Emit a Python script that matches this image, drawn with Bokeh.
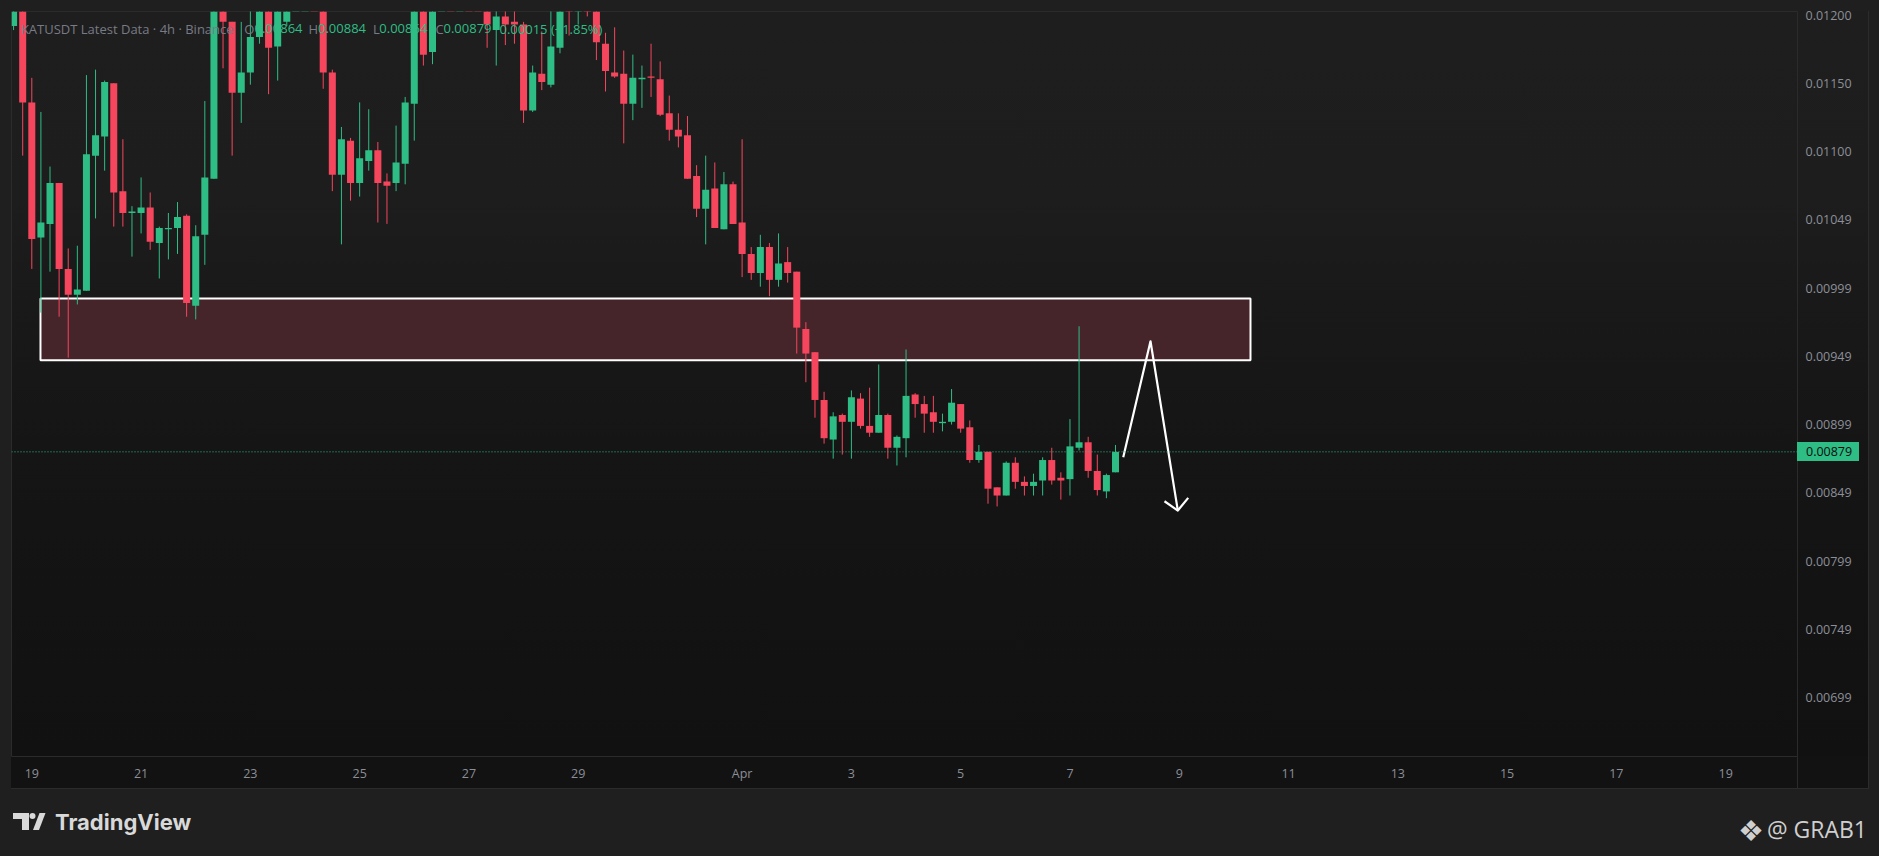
import numpy as np
from bokeh.plotting import figure
from bokeh.models import ColumnDataSource, FixedTicker, Label, Span, Range1d
from bokeh.embed import file_html
from bokeh.resources import INLINE

# ---------------- data (KATUSDT, 4h candles, prices in units of 0.00001 USDT) ----------------
# candle index 0 = 19 Mar 00:00, six candles per day
candle_index = list(range(-2, 120))

opens_e5 = [1191, 1212, 1135, 1036, 1046, 1076, 1013, 994, 997, 1096,
            1110, 1149, 1070, 1054, 1054, 1058, 1032, 1042, 1043, 1052,
            986, 1038, 1079, 1208, 1194, 1142, 1157, 1183, 1206, 1176,
            1194, 1206, 1215, 1218, 1212, 1157, 1082, 1107, 1076, 1092,
            1100, 1077, 1076, 1090, 1134, 1207, 1172, 1206, 1214, 1210,
            1218, 1213, 1208, 1188, 1198, 1194, 1192, 1129, 1156, 1148,
            1175, 1212, 1205, 1212, 1206, 1178, 1157, 1156, 1134, 1152,
            1154, 1152, 1127, 1115, 1111, 1081, 1057, 1072, 1042, 1075,
            1047, 1024, 1010, 1029, 1005, 1018, 1011, 969, 952, 917,
            888, 906, 901, 918, 898, 893, 906, 882, 889, 921,
            914, 908, 900, 901, 914, 897, 873, 879, 853, 847,
            871, 857, 854, 858, 873, 860, 859, 882, 886, 865,
            850, 864]
highs_e5 = [1210, 1215, 1153, 1128, 1088, 1076, 1028, 1030, 1155, 1159,
            1151, 1149, 1108, 1059, 1080, 1069, 1044, 1054, 1062, 1053,
            1045, 1136, 1212, 1212, 1194, 1194, 1203, 1208, 1210, 1210,
            1212, 1222, 1226, 1224, 1216, 1159, 1117, 1109, 1135, 1130,
            1106, 1083, 1118, 1139, 1210, 1212, 1211, 1220, 1222, 1226,
            1224, 1220, 1212, 1204, 1204, 1203, 1194, 1162, 1187, 1203,
            1210, 1215, 1218, 1216, 1209, 1186, 1190, 1173, 1170, 1162,
            1178, 1165, 1140, 1127, 1125, 1089, 1096, 1091, 1084, 1077,
            1108, 1029, 1038, 1032, 1039, 1029, 1011, 974, 952, 923,
            908, 907, 924, 922, 926, 943, 907, 891, 954, 922,
            920, 920, 907, 925, 914, 902, 884, 879, 853, 872,
            875, 861, 863, 875, 882, 864, 903, 971, 890, 877,
            863, 884]
lows_e5 = [1188, 1096, 1013, 981, 1011, 978, 948, 987, 997, 1050,
           1085, 1044, 1044, 1022, 1039, 1027, 1006, 1020, 1024, 978,
           976, 1016, 1079, 1160, 1096, 1120, 1148, 1178, 1141, 1151,
           1191, 1203, 1208, 1205, 1145, 1070, 1031, 1063, 1066, 1085,
           1047, 1046, 1070, 1075, 1107, 1162, 1163, 1203, 1205, 1207,
           1208, 1204, 1175, 1162, 1177, 1178, 1120, 1128, 1144, 1146,
           1171, 1184, 1192, 1198, 1166, 1143, 1153, 1105, 1122, 1131,
           1139, 1125, 1107, 1102, 1079, 1051, 1031, 1043, 1042, 1046,
           1007, 1005, 1000, 993, 1000, 1003, 951, 930, 904, 885,
           874, 877, 874, 896, 890, 893, 874, 869, 875, 904,
           893, 893, 894, 899, 893, 871, 871, 841, 839, 847,
           852, 847, 847, 847, 855, 844, 847, 880, 860, 847,
           845, 864]
closes_e5 = [1206, 1135, 1035, 1047, 1076, 1013, 994, 998, 1097, 1111,
             1150, 1069, 1054, 1055, 1058, 1033, 1043, 1043, 1051, 988,
             1037, 1080, 1208, 1194, 1142, 1157, 1183, 1205, 1175, 1204,
             1206, 1215, 1218, 1212, 1157, 1082, 1108, 1076, 1094, 1100,
             1076, 1074, 1091, 1135, 1205, 1170, 1206, 1214, 1210, 1218,
             1213, 1209, 1192, 1198, 1192, 1192, 1129, 1157, 1150, 1176,
             1206, 1205, 1212, 1206, 1179, 1158, 1154, 1134, 1153, 1153,
             1153, 1126, 1115, 1110, 1079, 1057, 1071, 1043, 1075, 1046,
             1024, 1010, 1029, 1005, 1017, 1010, 970, 951, 917, 889,
             905, 901, 919, 898, 893, 906, 882, 890, 920, 914,
             907, 901, 901, 915, 896, 873, 879, 852, 847, 871,
             857, 854, 857, 873, 858, 858, 883, 886, 865, 851,
             862, 879]

# date axis (days after 19 Mar)
x_ticks = [0, 2, 4, 6, 8, 10, 13, 15, 17, 19, 21, 23, 25, 27, 29, 31]
x_tick_labels = ["19", "21", "23", "25", "27", "29", "Apr", "3", "5", "7",
                 "9", "11", "13", "15", "17", "19"]

# price axis
y_ticks = [0.00699, 0.00749, 0.00799, 0.00849, 0.00899, 0.00949,
           0.00999, 0.01049, 0.01099, 0.01149, 0.01199]
y_tick_labels = ["0.00699", "0.00749", "0.00799", "0.00849", "0.00899", "0.00949",
                 "0.00999", "0.01049", "0.01100", "0.01150", "0.01200"]

# drawn resistance zone (days, price)
zone_left, zone_right = 0.159, 22.304
zone_bottom, zone_top = 0.009461, 0.009913

# drawn projection arrow (days, price)
arrow_x = [19.975, 20.474, 20.974]
arrow_y = [0.008750, 0.009600, 0.008360]
arrow_head_x = [20.730, 20.974, 21.164]
arrow_head_y = [0.008428, 0.008360, 0.008453]

header_title = "KATUSDT Latest Data · 4h · Binance"
header_change = "0.00015 (+1.85%)"
footer_brand = "TradingView"
footer_author = "@ GRAB1"

# ---------------- styling ----------------
UP = "#2ebd85"
DOWN = "#f6465d"
AXIS_TXT = "#8c8f98"
FONT = "Open Sans"

opens = np.array(opens_e5) * 1e-5
highs = np.array(highs_e5) * 1e-5
lows = np.array(lows_e5) * 1e-5
closes = np.array(closes_e5) * 1e-5
xs = np.array(candle_index) / 6.0
up = closes >= opens
colors = [UP if u else DOWN for u in up]

src = ColumnDataSource(dict(
    x=xs, o=opens, h=highs, l=lows, c=closes,
    top=np.maximum(opens, closes), bottom=np.minimum(opens, closes), color=colors))

X0, X1 = -0.3715, 32.315
Y0, Y1 = 0.006558, 0.012016
FRAME_TOP, FRAME_H = 11, 745

p = figure(width=1868, height=788, x_range=Range1d(X0, X1), y_range=Range1d(Y0, Y1),
           y_axis_location="right", output_backend="svg", toolbar_location=None,
           min_border_left=11, min_border_top=11, min_border_right=71, min_border_bottom=32,
           background_fill_alpha=0, border_fill_alpha=0,
           outline_line_color="#2b2b2b")
p.grid.visible = False

# zone
p.quad(left=[zone_left], right=[zone_right], bottom=[zone_bottom], top=[zone_top],
       fill_color="#45242a", line_color="white", line_width=2)

# candles
p.segment(x0="x", y0="l", x1="x", y1="h", line_color="color", line_width=1, source=src)
p.vbar(x="x", width=0.77 / 6, top="top", bottom="bottom", fill_color="color",
       line_color=None, source=src)

# arrow
p.line(arrow_x, arrow_y, line_color="white", line_width=2.2, line_join="round")
p.line(arrow_head_x, arrow_head_y, line_color="white", line_width=2.2, line_join="round")

# last price line
p.add_layout(Span(location=closes[-1], dimension="width", line_color=UP,
                  line_dash="1 2", line_width=1))

# header
hy = FRAME_H - 17
def hdr(x, txt, col, size="13px"):
    p.add_layout(Label(x=x, y=hy, x_units="screen", y_units="screen", text=txt,
                       text_font=FONT, text_font_size=size, text_color=col,
                       text_align="left", text_baseline="middle"))
GREY = "#787b86"
hdr(9.4, header_title, GREY, "13px")
hdr(232.7, "O", GREY); hdr(243, "%.5f" % opens[-1], UP)
hdr(297, "H", GREY); hdr(306.5, "%.5f" % highs[-1], UP)
hdr(361.6, "L", GREY); hdr(367.8, "%.5f" % lows[-1], UP)
hdr(424, "C", GREY); hdr(432, "%.5f" % closes[-1], UP)
hdr(488, header_change, UP)

# axes
p.xaxis.ticker = FixedTicker(ticks=x_ticks)
p.xaxis.major_label_overrides = {t: l for t, l in zip(x_ticks, x_tick_labels)}
p.yaxis.ticker = FixedTicker(ticks=y_ticks)
p.yaxis.major_label_overrides = {t: l for t, l in zip(y_ticks, y_tick_labels)}
for ax in (p.xaxis, p.yaxis):
    ax.axis_line_color = None
    ax.major_tick_line_color = None
    ax.minor_tick_line_color = None
    ax.major_tick_out = 0
    ax.major_tick_in = 0
    ax.minor_tick_out = 0
    ax.minor_tick_in = 0
    ax.major_label_text_color = AXIS_TXT
    ax.major_label_text_font = FONT
    ax.major_label_text_font_size = "12.5px"
p.xaxis.major_label_standoff = 8
p.yaxis.major_label_standoff = 8

# page-level background (TradingView dark gradient), price tag and footer
tag_center = FRAME_TOP + (Y1 - closes[-1]) / (Y1 - Y0) * FRAME_H
TEMPLATE = """
{% block preamble %}<style>
html {
  background:
    linear-gradient(#2b2b2b, #2b2b2b) 1868px 11px / 1px 778px no-repeat,
    linear-gradient(#2b2b2b, #2b2b2b) 11px 788px / 1858px 1px no-repeat,
    linear-gradient(#2b2b2b, #2b2b2b) 1797px 756px / 1px 32px no-repeat,
    linear-gradient(#121212, #121212) 11px 756px / 1857px 32px no-repeat,
    linear-gradient(to bottom, #1e1e1e 0%, #1d1d1d 25%, #191919 39%, #151515 59%, #131313 79%, #111111 100%) 11px 11px / 1857px 745px no-repeat,
    #1f1f1f;
}
html, body { margin: 0 !important; padding: 0 !important; }
body { background: transparent; }
</style>{% endblock %}
{% block inner_body %}{{ super() }}
<div style="position:absolute; z-index:5; left:1797px; top:{{ tag_top }}px; width:62px; height:19px; background:#2ebd85; color:#0c0c0c; font-family:'Open Sans'; font-size:12.5px; line-height:19px; padding-left:9px; box-sizing:border-box;">{{ tag_text }}</div>
<svg style="position:absolute; z-index:5; left:0; top:788px;" width="1879" height="68">
  <rect x="13" y="25" width="16" height="6" fill="#d9d9d9"/>
  <rect x="22" y="31" width="7" height="11" fill="#d9d9d9"/>
  <circle cx="32.5" cy="28" r="3" fill="#d9d9d9"/>
  <polygon points="33,42 39,42 45.5,25 39.5,25" fill="#d9d9d9"/>
  <text x="55" y="42" font-family="Inter" font-weight="700" font-size="22" fill="#d9d9d9">{{ brand }}</text>
  <text x="1764" y="53" text-anchor="end" font-family="DejaVu Sans" font-size="29" fill="#cfcfcf">&#10070;</text>
  <text x="1867" y="50" text-anchor="end" font-family="Open Sans" font-size="23" fill="#cfcfcf">{{ author }}</text>
</svg>
{% endblock %}
"""
open("out.html", "w").write(file_html(
    p, INLINE, title="KATUSDT", template=TEMPLATE,
    template_variables=dict(tag_top="%.1f" % (tag_center - 9.5), tag_text="%.5f" % closes[-1],
                            brand=footer_brand, author=footer_author)))
